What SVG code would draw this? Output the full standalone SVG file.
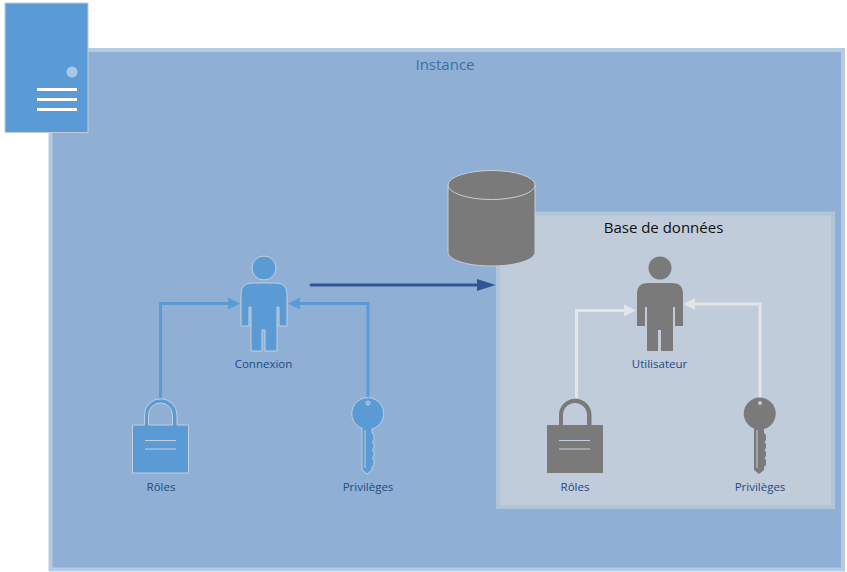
<svg xmlns="http://www.w3.org/2000/svg" width="847" height="572" viewBox="0 0 847 572">
<style>
text{font-family:"Open Sans","Noto Sans","Liberation Sans",sans-serif;text-anchor:middle}
.lbl{font-size:11.500px;fill:#1f4a85}
.blue{fill:#5b9bd5;stroke:#c3cfdd;stroke-width:1}
.gray{fill:#757575;stroke:#c9cfd6;stroke-width:1}
.cb{fill:none;stroke:#5b9bd5;stroke-width:3}
.cg{fill:none;stroke:#e3e5e7;stroke-width:3}
</style>
<defs>
<path id="person" d="M-12 283H12Q23 283 23 294V326H15V307H13V351H1V330H-2V351H-13V307H-15V326H-23V294Q-23 283 -12 283Z"/>
<path id="lock" fill-rule="evenodd" d="M0 425H12V415A16 16 0 0 1 44.500 415V425H56V473H0ZM16 425H40V415A12 12 0 0 0 16 415Z"/>
<path id="key" fill-rule="evenodd" d="M-6 428.500A16 16 0 1 1 4 429V433L6 435V440L4.500 442L6 444V448L4.500 450L6 452V456L4.500 458L6 460V465L4 467V470L-1 474L-6 470ZM2 403A2 2 0 1 0 -2 403A2 2 0 1 0 2 403Z"/>
</defs>
<rect id="instance" x="50.500" y="50" width="792.500" height="519.500" fill="#8fb0d4" stroke="#b5cbe3" stroke-width="4"/>
<text x="445" y="69.500" style="font-size:15px;fill:#3c6ea8">Instance</text>
<g id="base-de-donnees">
<rect x="498" y="213.500" width="335" height="293.500" fill="#c0ccd9" stroke="#b0c4da" stroke-width="4"/>
<text x="663.500" y="233" style="font-size:15px;fill:#111">Base de données</text>
</g>
<g id="connectors">
<path class="cb" d="M160.500 398V303.500H230"/>
<path fill="#5b9bd5" d="M240 303.500L228 297.500V309.500Z"/>
<path class="cb" d="M368 400V303.500H298"/>
<path fill="#5b9bd5" d="M288 303.500L300 297.500V309.500Z"/>
<path d="M311 285H480" fill="none" stroke="#2f5597" stroke-width="3" stroke-linecap="round"/>
<path fill="#2f5597" d="M495.500 285L477 279V291Z"/>
<path class="cg" d="M576.500 398V310.500H626"/>
<path fill="#e3e5e7" d="M636 310.500L624 304.500V316.500Z"/>
<path class="cg" d="M760 398V304H695"/>
<path fill="#e3e5e7" d="M683 304L695 298V310Z"/>
</g>
<g id="server">
<rect x="5" y="3" width="83" height="129.500" fill="#5b9bd5" stroke="#c3ccd6"/>
<circle cx="72" cy="72" r="5.500" fill="#a9c7e6"/>
<path d="M37 89.500H77M37 99.500H77M37 109.500H77" stroke="#fff" stroke-width="3" fill="none"/>
</g>
<g id="database">
<path d="M448 185V252C448 260 467 266 491.500 266S535 260 535 252V185Z" class="gray" fill="#7a7a7a" style="fill:#7a7a7a"/>
<ellipse cx="491.500" cy="185" rx="43.500" ry="14.500" class="gray" style="fill:#7a7a7a"/>
</g>
<g id="connexion">
<circle cx="264" cy="268" r="12" class="blue"/>
<use href="#person" x="264" class="blue"/>
<text x="263.500" y="368" class="lbl">Connexion</text>
</g>
<g id="roles-instance">
<use href="#lock" x="132.500" class="blue"/>
<path d="M145 440.500H176M145 449H176" stroke="#c3cfdd" fill="none"/>
<text x="161" y="491" class="lbl">Rôles</text>
</g>
<g id="privileges-instance">
<use href="#key" x="368" class="blue"/>
<path d="M365 430V468" stroke="#c3cfdd" fill="none"/>
<text x="368" y="491" class="lbl">Privilèges</text>
</g>
<g id="utilisateur">
<circle cx="660" cy="268" r="11.500" fill="#7a7a7a"/>
<use href="#person" x="660" fill="#7a7a7a"/>
<text x="659.500" y="368" class="lbl">Utilisateur</text>
</g>
<g id="roles-base">
<use href="#lock" x="547" fill="#7a7a7a"/>
<path d="M559 440.500H590M559 449H590" stroke="#c3cfdd" fill="none"/>
<text x="575" y="491" class="lbl">Rôles</text>
</g>
<g id="privileges-base">
<use href="#key" x="760" fill="#7a7a7a"/>
<path d="M757 430V468" stroke="#c3cfdd" fill="none"/>
<text x="760" y="491" class="lbl">Privilèges</text>
</g>
</svg>
